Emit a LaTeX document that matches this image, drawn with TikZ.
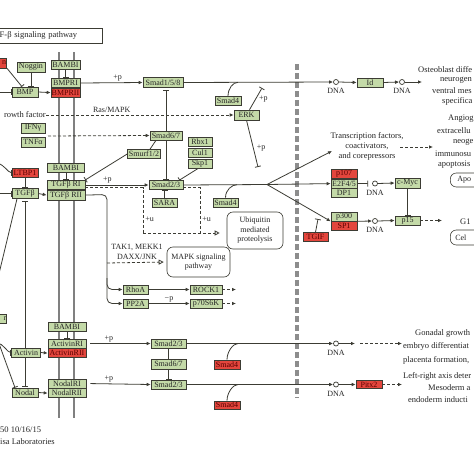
\documentclass[tikz,border=0pt]{standalone}
\usepackage{xcolor}
\usepackage{fontspec}
\setmainfont{Liberation Serif}
\usetikzlibrary{arrows.meta, positioning, backgrounds, calc}
\definecolor{genegreen}{HTML}{C4DAA8}
\definecolor{genered}{HTML}{E3463D}
\definecolor{edge}{HTML}{3C3C34}
\definecolor{ink}{HTML}{262626}
\definecolor{membrane}{HTML}{808080}
\tikzset{
  gene/.style={
    rectangle, draw=edge, fill=genegreen, line width=0.6pt,
    inner sep=0.5pt, minimum height=9pt,
    font=\fontsize{8}{8.5}\selectfont, text=ink
  },
  redgene/.style={gene, fill=genered, text=red!35!black},
  pathbox/.style={rectangle, rounded corners=6pt, draw=edge, fill=white,
    line width=0.6pt, align=center, font=\fontsize{8}{9.5}\selectfont, text=ink},
  titlebox/.style={rectangle, draw=edge, fill=white, line width=0.6pt,
    font=\fontsize{8.5}{9}\selectfont, text=ink},
  note/.style={font=\fontsize{8.5}{10}\selectfont, text=ink, inner sep=0pt},
  plabel/.style={font=\fontsize{8}{8.5}\selectfont, text=ink, inner sep=1pt},
  dna/.style={circle, draw=edge, fill=white, line width=0.7pt, minimum size=5pt, inner sep=0pt},
  link/.style={draw=edge, line width=0.8pt},
  act/.style={link, -{Latex[length=4pt,width=3.6pt]}},
  inh/.style={link, -{Bar[width=6pt]}},
  ind/.style={link, dash pattern=on 3pt off 2pt, -{Latex[length=4pt,width=3.6pt]}},
  ubi/.style={link, dash pattern=on 3pt off 2pt, -{Triangle[open,length=5pt,width=5pt]}},
  memline/.style={draw=membrane, line width=2.2pt},
  nucline/.style={draw=membrane!90, line width=3.5pt, dash pattern=on 6pt off 3pt},
}
\begin{document}
\begin{tikzpicture}[x=1pt, y=-1pt]
  \useasboundingbox (0,0) rectangle (474,474);

  % title
  \node[titlebox, anchor=east, text width=91pt, align=left, inner xsep=12pt, minimum height=15pt] (title) at (103,35.5) {F-β signaling pathway};

  % BMP branch
  \node[redgene, anchor=east, text width=12pt, align=right, minimum height=10pt] (chrd) at (7,63) {n};
  \node[gene, minimum width=28pt, minimum height=10pt] (noggin) at (31,67) {Noggin};
  \node[gene, minimum width=26pt, minimum height=10pt] (bmp) at (25,92) {BMP};
  \node[gene, minimum width=29pt] (bambi1) at (65.5,65) {BAMBI};
  \node[gene, minimum width=29pt] (bmpr1) at (65.5,83) {BMPRI};
  \node[redgene, minimum width=29pt, below=0pt of bmpr1] (bmpr2) {BMPRII};
  \node[gene, minimum width=40pt, minimum height=10pt] (smad158) at (163,82.5) {Smad1/5/8};
  \node[gene, minimum width=26pt] (smad4a) at (228,101) {Smad4};
  \node[note, anchor=east] (growth) at (46,115) {rowth factor};
  \node[gene, minimum width=24pt, minimum height=10pt] (ifng) at (33,128) {IFNγ};
  \node[gene, minimum width=24pt, minimum height=10pt] (tnfa) at (33,142) {TNFα};
  \node[gene, minimum width=25pt, minimum height=10pt] (erk) at (246.5,115) {ERK};
  \node[gene, minimum width=32pt] (smad67a) at (166,135.5) {Smad6/7};
  \node[gene, minimum width=33pt] (smurf) at (144,154) {Smurf1/2};
  \node[gene, minimum width=24pt] (rbx1) at (200,141.5) {Rbx1};
  \node[gene, minimum width=24pt, below=1.5pt of rbx1] (cul1) {Cul1};
  \node[gene, minimum width=24pt, below=1.5pt of cul1] (skp1) {Skp1};

  % TGF-beta branch
  \node[gene, minimum width=37pt] (bambi2) at (66,168) {BAMBI};
  \node[gene, minimum width=38pt, minimum height=9.5pt] (tgfbr1) at (66,185) {TGFβ RI};
  \node[gene, minimum width=38pt, minimum height=9.5pt, below=0pt of tgfbr1] (tgfbr2) {TGFβ RII};
  \node[redgene, minimum width=26pt] (ltbp1) at (25,172.5) {LTBP1};
  \node[gene, minimum width=26pt, minimum height=10pt] (tgfb) at (25,193.5) {TGFβ};
  \node[gene, minimum width=34pt] (smad23a) at (166,185) {Smad2/3};
  \node[gene, minimum width=25pt] (sara) at (164.5,202.5) {SARA};
  \node[gene, minimum width=25pt] (smad4b) at (225.5,202.5) {Smad4};
  \node[pathbox, minimum width=56pt, minimum height=37pt] (ubiq) at (255,230.5) {Ubiquitin\\mediated\\proteolysis};
  \node[pathbox, minimum width=63pt, minimum height=30pt] (mapk) at (198.5,262) {MAPK signaling\\pathway};
  \node[plabel, align=center, font=\fontsize{8}{10}\selectfont] (tak) at (137,252) {TAK1, MEKK1\\DAXX/JNK};
  \node[gene, minimum width=25pt] (rhoa) at (135.5,289.5) {RhoA};
  \node[gene, minimum width=32pt] (rock1) at (206,289.5) {ROCK1};
  \node[gene, minimum width=25pt] (pp2a) at (135.5,303.5) {PP2A};
  \node[gene, minimum width=32pt] (p70) at (206,303.5) {p70S6K};

  % nucleus
  \node[dna] (dna1) at (336,82) {};
  \node[gene, minimum width=26pt] (id) at (370,82.5) {Id};
  \node[dna] (dna2) at (402,82) {};
  \node[note, align=center] (tfac) at (367,146) {Transcription factors,\\coactivators,\\and corepressors};
  \node[redgene, minimum width=26pt] (p107) at (344,173.5) {p107};
  \node[gene, minimum width=26pt, below=0.5pt of p107] (e2f) {E2F4/5};
  \node[gene, minimum width=26pt, below=0pt of e2f] (dp1) {DP1};
  \node[dna] (dna3) at (375,183.5) {};
  \node[gene, minimum width=25pt, minimum height=10pt] (cmyc) at (407.5,183) {c-Myc};
  \node[gene, minimum width=26pt] (p300) at (344,216.5) {p300};
  \node[redgene, minimum width=26pt, below=0pt of p300] (sp1) {SP1};
  \node[dna] (dna4) at (375,221) {};
  \node[gene, minimum width=25pt] (p15) at (407.5,220.5) {p15};
  \node[redgene, minimum width=25pt] (tgif) at (315.5,237) {TGIF};
  \node[pathbox, anchor=west, text width=30pt, align=left, inner xsep=7pt, minimum height=14pt] (apo) at (450,180) {Apo};
  \node[pathbox, anchor=west, text width=30pt, align=left, inner xsep=5pt, minimum height=15pt] (cell) at (450,237.5) {Cel};

  % outcome texts
  \node[note, anchor=west] (ost1) at (418,70) {Osteoblast diffe};
  \node[note, anchor=west] (ost2) at (440,80.5) {neurogen};
  \node[note, anchor=west] (ost3) at (432,91) {ventral mes};
  \node[note, anchor=west] (ost4) at (442,101.5) {specifica};
  \node[note, anchor=west] (ang1) at (448,119) {Angiog};
  \node[note, anchor=west] (ang2) at (437,130.5) {extracellu};
  \node[note, anchor=west] (ang3) at (453,142) {neoge};
  \node[note, anchor=west] (ang4) at (435,153.5) {immunosu};
  \node[note, anchor=west] (ang5) at (438,165) {apoptosis};
  \node[note, anchor=west] (g1t) at (460,222) {G1};
  \node[note, anchor=west] (gon1t) at (415,333) {Gonadal growth};
  \node[note, anchor=west] (gon2t) at (403,346.5) {embryo differentiat};
  \node[note, anchor=west] (gon3t) at (403,360) {placenta formation,};
  \node[note, anchor=west] (lr1t) at (403,376) {Left-right axis deter};
  \node[note, anchor=west] (lr2t) at (428,388) {Mesoderm a};
  \node[note, anchor=west] (lr3t) at (408,399.5) {endoderm inducti};

  % Activin / Nodal branch
  \node[gene, anchor=east, text width=8pt, align=right, minimum height=8.5pt] (lefty) at (7,319) {r};
  \node[gene, minimum width=38pt] (bambi3) at (67,326.5) {BAMBI};
  \node[gene, minimum width=38pt] (actr1) at (67,343.5) {ActivinRI};
  \node[redgene, minimum width=38pt, below=0pt of actr1] (actr2) {ActivinRII};
  \node[gene, minimum width=29pt] (activin) at (26,352.5) {Activin};
  \node[gene, minimum width=35pt] (smad23c) at (168.5,343.5) {Smad2/3};
  \node[gene, minimum width=35pt, minimum height=10pt] (smad67b) at (168.5,364) {Smad6/7};
  \node[gene, minimum width=35pt] (smad23d) at (168.5,384.5) {Smad2/3};
  \node[gene, minimum width=38pt] (nodr1) at (67,383.5) {NodalRI};
  \node[gene, minimum width=38pt, below=0pt of nodr1] (nodr2) {NodalRII};
  \node[gene, minimum width=26pt] (nodal) at (25,392.5) {Nodal};
  \node[redgene, minimum width=26pt] (smad4c) at (227,364.5) {Smad4};
  \node[redgene, minimum width=26pt, minimum height=8pt] (smad4d) at (227,405) {Smad4};
  \node[dna] (dna5) at (336,343.5) {};
  \node[dna] (dna6) at (336,384.5) {};
  \node[redgene, minimum width=26pt, minimum height=7.5pt] (pitx2) at (369,384.5) {Pitx2};

  \foreach \d in {dna1, dna2, dna3, dna4, dna5, dna6}
    \node[plabel, below=2.5pt of \d] (\d l) {DNA};

  \node[note, anchor=west] (stamp) at (0,430) {50 10/16/15};
  \node[note, anchor=west] (copy) at (0,442) {isa Laboratories};

  % free ends
  \coordinate (offl0) at (-4,92);
  \coordinate (offl1) at (-3,163);
  \coordinate (offl2) at (-4,193.5);
  \coordinate (offl3) at (-3,282);
  \coordinate (offl4) at (-3,343);
  \coordinate (offl5) at (-3,338);
  \coordinate (ifnpair) at (48,136);
  \coordinate (j1) at (238,82.3);
  \coordinate (j2) at (237,184.7);
  \coordinate (j3) at (238,343.5);
  \coordinate (j4) at (238,384.5);
  \coordinate (ek1) at (262,88);
  \coordinate (ek2) at (258,167);
  \coordinate (u1) at (143,187.5);
  \coordinate (u2) at (143,233);
  \coordinate (u3) at (200,187.5);
  \coordinate (u4) at (200,233);
  \coordinate (br) at (267,184.5);
  \coordinate (tfend) at (332,151);
  \coordinate (tfa) at (400,147);
  \coordinate (tfb) at (433,147);
  \coordinate (ost) at (422,82);
  \coordinate (g1) at (442,220.5);
  \coordinate (tg) at (318,219);
  \coordinate (tk1) at (107,194.5);
  \coordinate (tk2) at (107,303.5);
  \coordinate (tk3) at (107,278);
  \coordinate (tk4) at (107,263);
  \coordinate (rk) at (236,289.5);
  \coordinate (pk) at (236,303.5);
  \coordinate (gon1) at (355,343.5);
  \coordinate (gon2) at (360,343.5);
  \coordinate (gon3) at (402,343.5);
  \coordinate (lr) at (402,384.5);

  \begin{scope}[on background layer]
    \fill[white] (0,0) rectangle (474,474);
    \draw[memline] (59,52) -- (59,418);
    \draw[memline] (74,52) -- (74,418);
    \draw[nucline] (297,64) -- (297,398);

    % BMP
    \draw[inh] (offl0) -- (bmp.west);
    \draw[inh] (chrd.south east) -- ([xshift=-3pt]bmp.north);
    \draw[inh] (noggin.south) -- ([xshift=6pt]bmp.north);
    \draw[act] (bmp.east) -- (bmpr2.west);
    \draw[inh] (bambi1.south) -- (bmpr1.north);
    \draw[act] (bmpr1.east) -- (smad158.west) node[plabel, pos=0.6, above=0pt] {+p};
    \draw[act] (smad158.east) -- (dna1.west);
    \draw[link] (smad4a.north) .. controls +(0,-8) and +(-5,0) .. (j1);
    \draw[inh, shorten >=2pt] (smad67a.north) -- (smad67a.north |- smad158.south);
    \draw[ind] (growth.east) -- (erk.west) node[plabel, pos=0.35, above=1pt] {Ras/MAPK};
    \draw[inh] ([xshift=3pt]erk.north) -- (ek1) node[plabel, pos=0.5, right=2pt] {+p};
    \draw[inh] (erk.south) -- (ek2) node[plabel, pos=0.6, right=2pt] {+p};
    \draw[ind] (ifnpair) -- (smad67a.west);
    \draw[link] ([xshift=6pt]smurf.north) -- ([xshift=-10pt]smad67a.south);
    \draw[inh] (smurf.west) -- (tgfbr1.north east);
    \draw[inh] (smad67a.south) -- (smad23a.north);
    \draw[inh] ([xshift=-2pt]skp1.south) -- ([xshift=-4pt]smad23a.north east);
    \draw[inh] (sara.north) -- (sara.north |- smad23a.south);

    % TGF-beta
    \draw[inh] (offl1) .. controls +(8,2) and +(-4,0) .. (ltbp1.west);
    \draw[inh] (offl2) -- (tgfb.west);
    \draw[inh] (ltbp1.south) -- (tgfb.north);
    \draw[link] (offl3) -- ([xshift=-8pt]tgfb.south);
    \draw[link, {Bar[width=6pt]}-{Bar[width=6pt]}] ([yshift=-2pt]tgfb.south) -- ([yshift=1pt]nodal.north);
    \draw[act] (tgfb.east) -- (tgfbr2.west);
    \draw[inh] (bambi2.south) -- (tgfbr1.north);
    \draw[act] (tgfbr1.east) -- (smad23a.west) node[plabel, pos=0.35, above=0pt] {+p};
    \draw[link, dash pattern=on 3pt off 2pt] ([yshift=-2.5pt]tgfbr1.east) -- (u1) -- (u2) node[plabel, pos=0.7, right=1pt] {+u};
    \draw[link, dash pattern=on 3pt off 2pt] ([yshift=-2.5pt]smad23a.east) -- (u3) -- (u4) node[plabel, pos=0.7, right=1pt] {+u};
    \draw[ubi, shorten >=7pt] (u2) -- (ubiq.west |- u2);
    \draw[link] (smad23a.east) -- (br);
    \draw[link] (smad4b.north) .. controls +(0,-8) and +(-5,0) .. (j2);
    \draw[act] (br) -- (tfend);
    \draw[act] (br) -- (e2f.west);
    \draw[act] (br) -- (p300.south west);
    \draw[act, rounded corners=5pt] (tgfbr2.east) -- (tk1) -- (tk2) -- (pp2a.west);
    \draw[act, rounded corners=5pt] (tk3) |- (rhoa.west);
    \draw[ubi, shorten >=3pt] (tk4) -- (mapk.west);
    \draw[act] (rhoa.east) -- (rock1.west);
    \draw[act] (pp2a.east) -- (p70.west) node[plabel, midway, above=0pt] {−p};
    \draw[ind] (rock1.east) -- (rk);
    \draw[ind] (p70.east) -- (pk);

    % nucleus
    \draw[act] (dna1.east) -- (id.west);
    \draw[act] (id.east) -- (dna2.west);
    \draw[act] (dna2.east) -- (ost);
    \draw[ind] (tfa) -- (tfb);
    \draw[inh, shorten >=4pt] (e2f.east) -- (dna3.west);
    \draw[act] (dna3.east) -- (cmyc.west);
    \draw[inh] (cmyc.south) -- (p15.north);
    \draw[act] (sp1.north east) -- (dna4.west);
    \draw[act] (dna4.east) -- (p15.west);
    \draw[ind] (p15.east) -- (g1);
    \draw[inh] (tgif.north) -- (tg);

    % Activin / Nodal
    \draw[inh] (offl4) .. controls +(6,0) and +(-4,0) .. (activin.west);
    \draw[inh] (offl5) -- ([xshift=-10pt]nodal.north);
    \draw[act] (activin.east) -- (actr2.west);
    \draw[inh] (bambi3.south) -- (actr1.north);
    \draw[act, shorten <=4pt] (actr1.east) -- (smad23c.west) node[plabel, pos=0.35, above=0pt] {+p};
    \draw[inh] (smad67b.north) -- (smad23c.south);
    \draw[inh] (smad67b.south) -- (smad23d.north);
    \draw[act] (smad23c.east) -- (dna5.west);
    \draw[link] (smad4c.north) .. controls +(0,-8) and +(-5,0) .. (j3);
    \draw[act] (dna5.east) -- (gon1);
    \draw[ind] (gon2) -- (gon3);
    \draw[act] (nodal.east) -- (nodr2.west);
    \draw[act, shorten <=4pt] (nodr1.east) -- (smad23d.west) node[plabel, pos=0.35, above=0pt] {+p};
    \draw[act] (smad23d.east) -- (dna6.west);
    \draw[link] (smad4d.north) .. controls +(0,-8) and +(-5,0) .. (j4);
    \draw[act] (dna6.east) -- (pitx2.west);
    \draw[ind] (pitx2.east) -- (lr);
  \end{scope}
\end{tikzpicture}
\end{document}
